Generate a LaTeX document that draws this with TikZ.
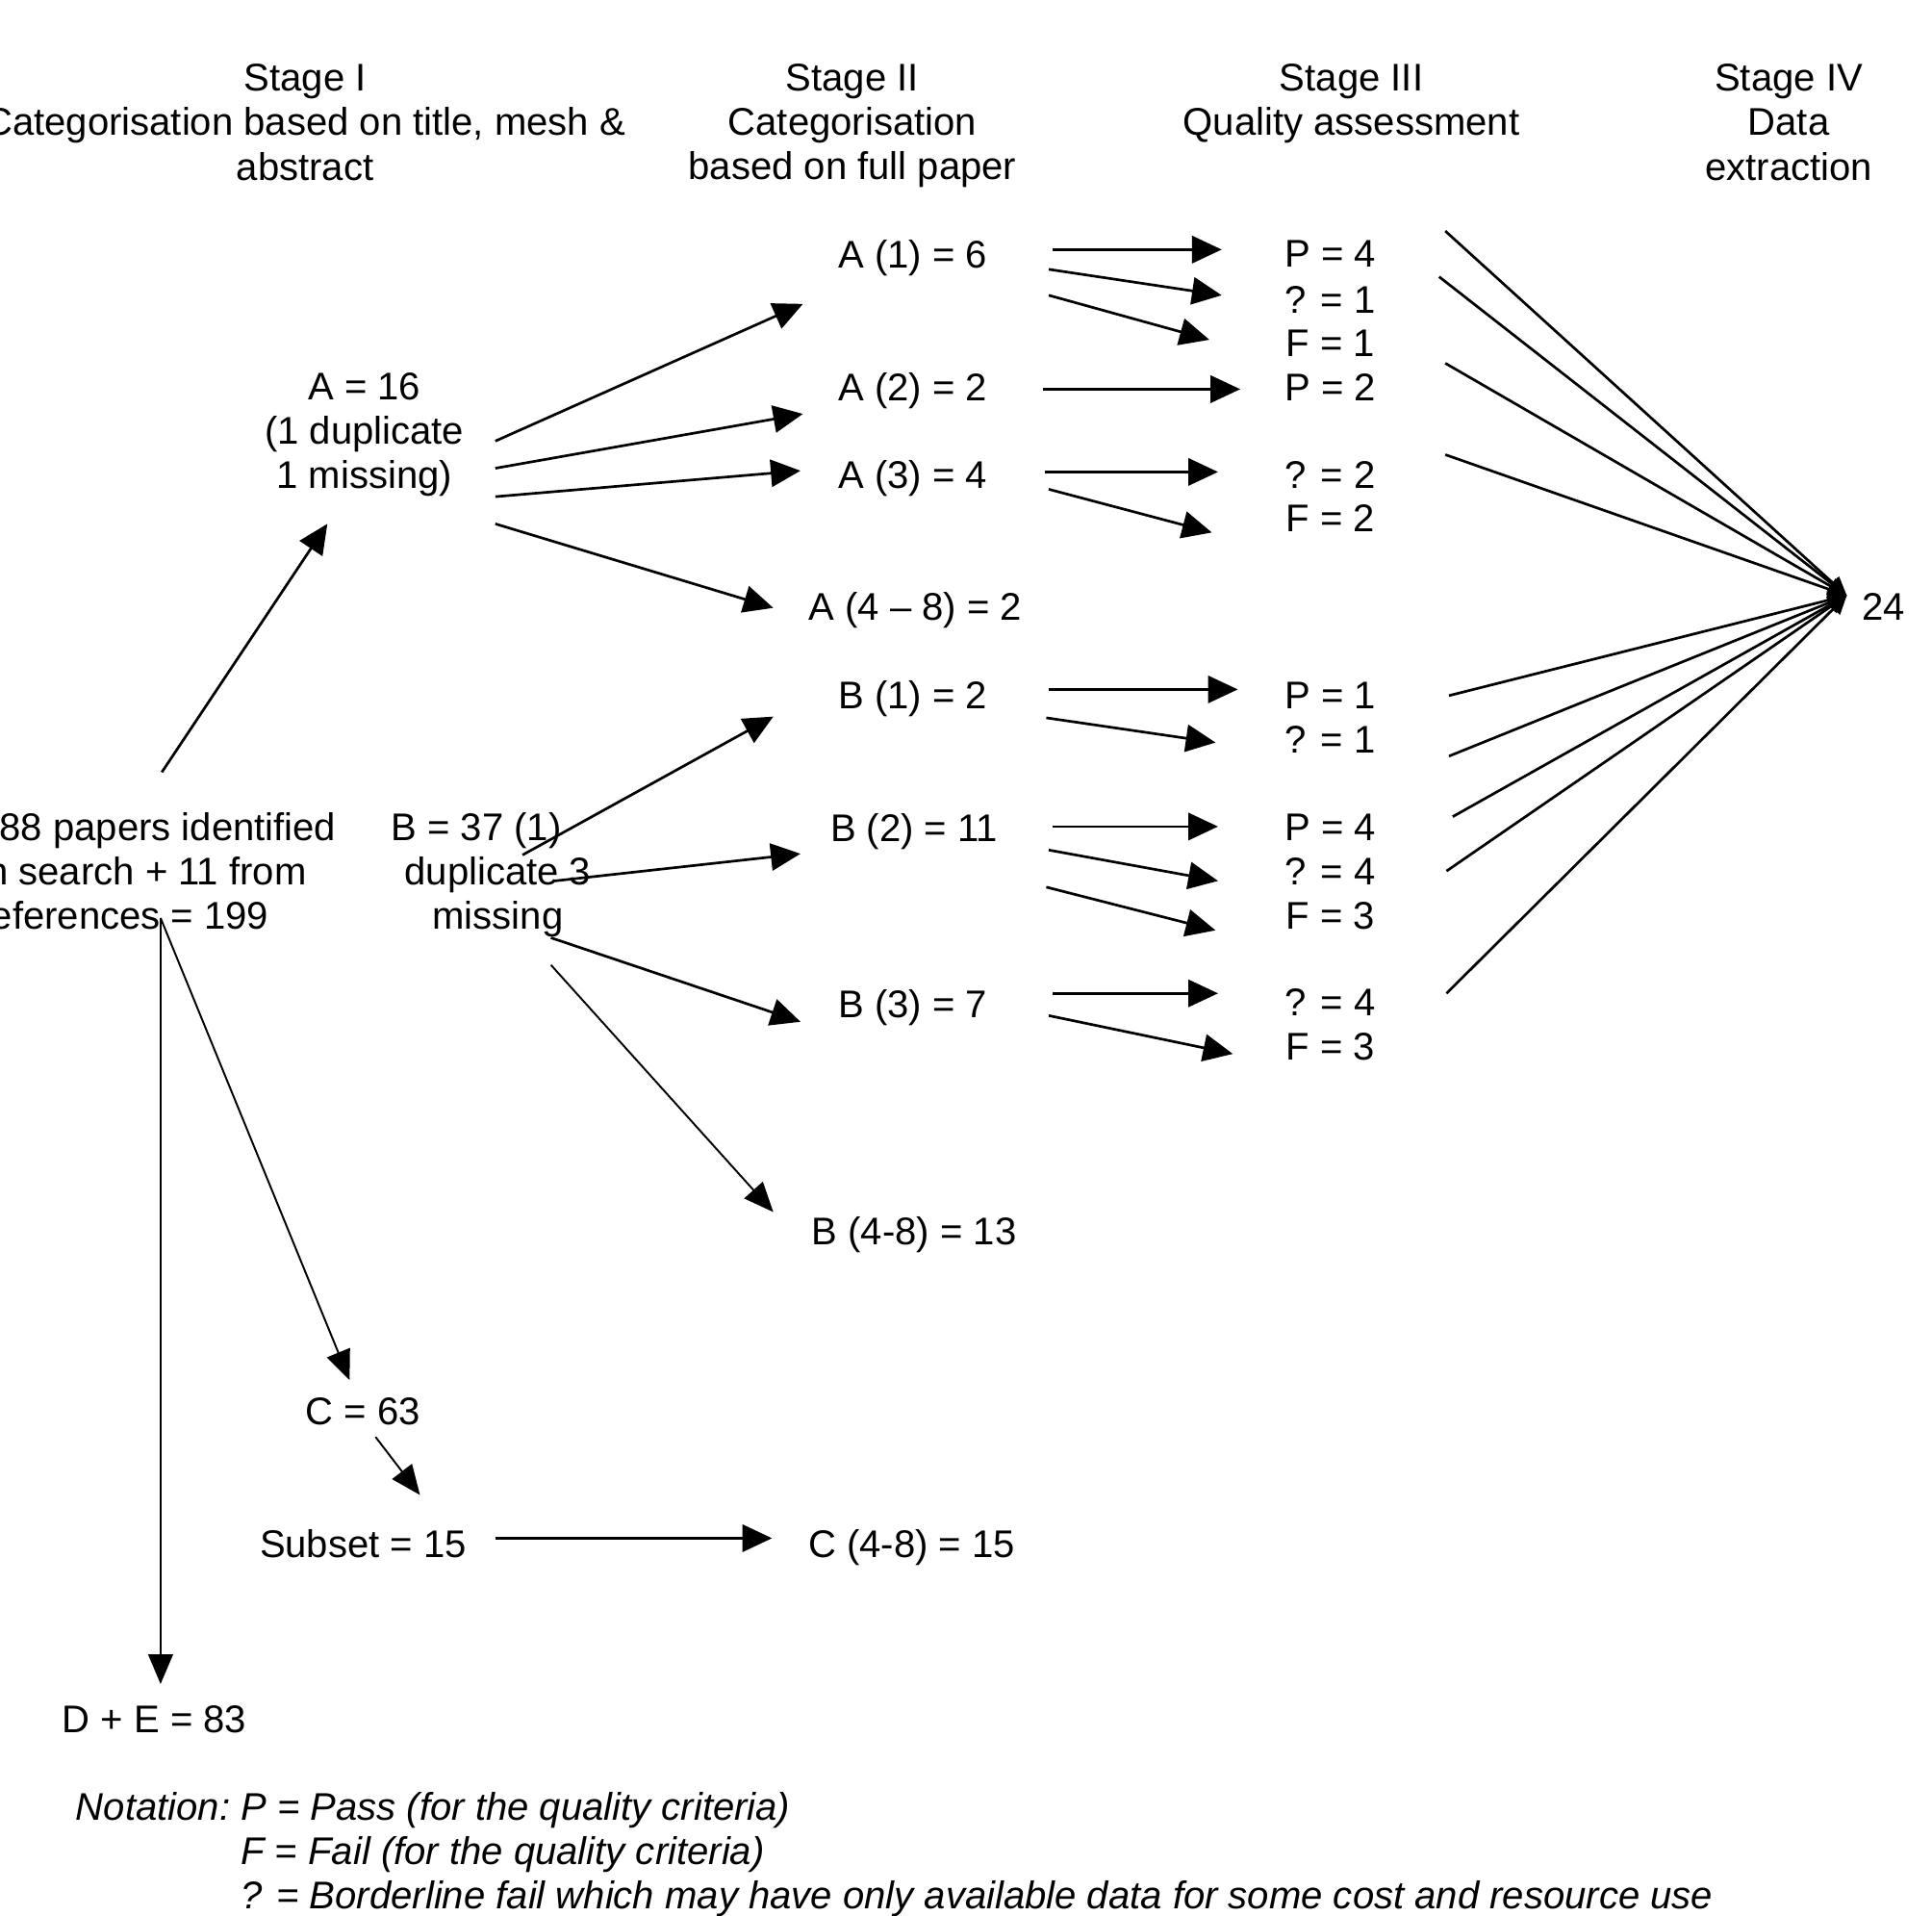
\documentclass[tikz,border=0pt]{standalone}
\usepackage{fontspec}
\setmainfont{Liberation Sans}
\usetikzlibrary{arrows.meta}
\begin{document}
\begin{tikzpicture}[x=0.5pt,y=-0.5pt,
  lbl/.style={font=\fontsize{15.6}{18}\selectfont, inner sep=0pt, align=center},
  one/.style={lbl, text height=11.3pt, text depth=0pt},
  arr/.style={line width=1.05pt, -{Triangle[length=12pt,width=11pt]}},
  thinarr/.style={line width=0.75pt, -{Triangle[length=12pt,width=10pt]}},
  fan/.style={line width=1.05pt, -{Triangle[length=7.5pt,width=7pt]}},
]
\fill[white] (0,0) rectangle (1564,1550);
\useasboundingbox (0,0) rectangle (1564,1550);

% headers
\node[lbl] (h1) at (247,99) {Stage I\\Categorisation based on title, mesh \&\\abstract};
\node[lbl] (h2) at (690,102) {Stage II\\Categorisation\\based on full paper};
\node[lbl] (h3) at (1094,84) {Stage III\\Quality assessment};
\node[lbl] (h4) at (1448,99) {Stage IV\\Data\\extraction};

% stage I
\node[lbl,align=left,anchor=west] (all) at (-18,705) {188 papers identified\\in search + 11 from\\references = 199};
\node[lbl] (A16) at (295,352) {A = 16\\(1 duplicate\\1 missing)};
\node[lbl] (B37) at (403,708) {B = 37 (1)\makebox[17.5pt]{}\\duplicate 3\\missing};
\node[one] (C63) at (294,1142) {C = 63};
\node[one] (Sub) at (294,1249) {Subset = 15};
\node[one] (DE) at (125,1391) {D + E = 83};

% stage II
\node[one] (A1) at (739,206) {A (1) = 6};
\node[one] (A2) at (739,313) {A (2) = 2};
\node[one] (A3) at (739,384) {A (3) = 4};
\node[one] (A48) at (741,491) {A (4 -- 8) = 2};
\node[one] (B1) at (739,562) {B (1) = 2};
\node[one] (B2) at (740,670) {B (2) = 11};
\node[one] (B3) at (739,812) {B (3) = 7};
\node[one] (B48) at (740,996) {B (4-8) = 13};
\node[one] (C48) at (738,1249) {C (4-8) = 15};

% stage III
\node[one] (P4a) at (1077,205) {P = 4};
\node[one] (Q1a) at (1077,242) {? = 1};
\node[one] (F1a) at (1077,277) {F = 1};
\node[one] (P2a) at (1077,313) {P = 2};
\node[one] (Q2a) at (1077,384) {? = 2};
\node[one] (F2a) at (1077,419) {F = 2};
\node[one] (P1b) at (1077,562) {P = 1};
\node[one] (Q1b) at (1077,598) {? = 1};
\node[one] (P4b) at (1077,669) {P = 4};
\node[one] (Q4a) at (1077,705) {? = 4};
\node[one] (F3a) at (1077,741) {F = 3};
\node[one] (Q4b) at (1077,811) {? = 4};
\node[one] (F3b) at (1077,847) {F = 3};

% stage IV
\node[one,anchor=west] (S4) at (1507,491) {24};

% notation
\node[lbl,anchor=west,font=\fontsize{15.6}{18}\selectfont\itshape] (note) at (61,1502)
  {\begin{tabular}{@{}l@{}l@{}}Notation:\kern0.278em & P = Pass (for the quality criteria)\\
   & F = Fail (for the quality criteria)\\
   & ? = Borderline fail which may have only available data for some cost and resource use\end{tabular}};

% connector end points
\coordinate (all-up) at (131,625);
\coordinate (all-dn) at (130,743);
\coordinate (A16-in) at (265,424);
\coordinate (A16-o1) at (401,357);
\coordinate (A16-o2) at (401,379);
\coordinate (A16-o3) at (401,402);
\coordinate (A16-o4) at (401,424);
\coordinate (A1-in) at (650,246);
\coordinate (A2-in) at (650,335);
\coordinate (A3-in) at (648,381);
\coordinate (A48-in) at (626,492);
\coordinate (DE-in) at (130,1363);
\coordinate (C63-in) at (283,1117);
\coordinate (C63-out) at (304,1163);
\coordinate (Sub-in) at (340,1210);
\coordinate (Sub-out) at (401,1245);
\coordinate (C48-in) at (625,1245);
\coordinate (B37-o1) at (423,692);
\coordinate (B37-o2) at (449,713);
\coordinate (B37-o3) at (446,759);
\coordinate (B37-o4) at (446,781);
\coordinate (B1-in) at (626,580);
\coordinate (B2-in) at (648,691);
\coordinate (B3-in) at (648,827);
\coordinate (B48-in) at (626,981);

\coordinate (A1-o1) at (852,202); \coordinate (P4a-in) at (989,202);
\coordinate (A1-o2) at (849,218); \coordinate (Q1a-in) at (989,239);
\coordinate (A1-o3) at (849,239); \coordinate (F1a-in) at (979,275);
\coordinate (A2-o1) at (844,315); \coordinate (P2a-in) at (1004,315);
\coordinate (A3-o1) at (846,382); \coordinate (Q2a-in) at (986,382);
\coordinate (A3-o2) at (849,396); \coordinate (F2a-in) at (981,431);
\coordinate (B1-o1) at (849,558); \coordinate (P1b-in) at (1002,558);
\coordinate (B1-o2) at (847,581); \coordinate (Q1b-in) at (984,601);
\coordinate (B2-o1) at (852,669); \coordinate (P4b-in) at (986,669);
\coordinate (B2-o2) at (849,688); \coordinate (Q4a-in) at (986,713);
\coordinate (B2-o3) at (847,718); \coordinate (F3a-in) at (984,753);
\coordinate (B3-o1) at (852,804); \coordinate (Q4b-in) at (986,804);
\coordinate (B3-o2) at (849,822); \coordinate (F3b-in) at (998,853);

\coordinate (S4-in) at (1495,482);
\coordinate (P4a-out) at (1170,187);
\coordinate (Q1a-out) at (1165,224);
\coordinate (P2a-out) at (1170,294);
\coordinate (Q2a-out) at (1170,368);
\coordinate (P1b-out) at (1173,563);
\coordinate (Q1b-out) at (1173,612);
\coordinate (P4b-out) at (1176,661);
\coordinate (Q4a-out) at (1171,705);
\coordinate (Q4b-out) at (1171,804);

% stage I connectors
\draw[arr] (all-up) -- (A16-in);
\draw[thinarr] (all-dn) -- (DE-in);
\draw[thinarr] (all-dn) -- (C63-in);
\draw[thinarr] (C63-out) -- (Sub-in);
\draw[arr] (Sub-out) -- (C48-in);

\draw[arr] (A16-o1) -- (A1-in);
\draw[arr] (A16-o2) -- (A2-in);
\draw[arr] (A16-o3) -- (A3-in);
\draw[arr] (A16-o4) -- (A48-in);

\draw[arr] (B37-o1) -- (B1-in);
\draw[arr] (B37-o2) -- (B2-in);
\draw[arr] (B37-o3) -- (B3-in);
\draw[thinarr] (B37-o4) -- (B48-in);

% stage II -> III
\draw[arr] (A1-o1) -- (P4a-in);
\draw[arr] (A1-o2) -- (Q1a-in);
\draw[arr] (A1-o3) -- (F1a-in);
\draw[arr] (A2-o1) -- (P2a-in);
\draw[arr] (A3-o1) -- (Q2a-in);
\draw[arr] (A3-o2) -- (F2a-in);
\draw[arr] (B1-o1) -- (P1b-in);
\draw[arr] (B1-o2) -- (Q1b-in);
\draw[arr] (B2-o1) -- (P4b-in);
\draw[arr] (B2-o2) -- (Q4a-in);
\draw[arr] (B2-o3) -- (F3a-in);
\draw[arr] (B3-o1) -- (Q4b-in);
\draw[arr] (B3-o2) -- (F3b-in);

% stage III -> IV
\foreach \s in {P4a,Q1a,P2a,Q2a,P1b,Q1b,P4b,Q4a,Q4b}
  \draw[fan] (\s-out) -- (S4-in);
\end{tikzpicture}
\end{document}
